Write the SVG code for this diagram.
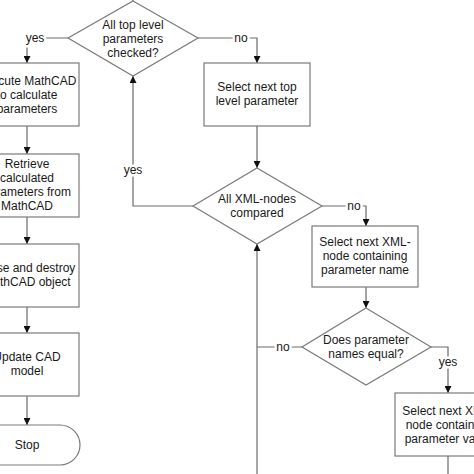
<svg xmlns="http://www.w3.org/2000/svg" width="474" height="474" viewBox="0 0 474 474">
<style>
.box{fill:#fff;stroke:#7a7a7a;stroke-width:1.2}
.t{font-family:"Liberation Sans",Arial,sans-serif;font-size:12px;fill:#1a1a1a;text-anchor:middle}
.c{fill:none;stroke:#6a6a6a;stroke-width:1.2}
.lbl{font-family:"Liberation Sans",Arial,sans-serif;font-size:12px;fill:#1a1a1a;text-anchor:middle;stroke:#fff;stroke-width:5;paint-order:stroke;stroke-linejoin:round}
</style>
<defs>
<marker id="ah" viewBox="0 0 10 10" refX="10" refY="5" markerWidth="7" markerHeight="7" markerUnits="userSpaceOnUse" orient="auto">
<path d="M0,0 L10,5 L0,10 z" fill="#111"/>
</marker>
</defs>
<rect width="474" height="474" fill="#fff"/>
<g id="connectors">
<path class="c" d="M133,-5 V1"/>
<path class="c" d="M68,38 H27 V63" marker-end="url(#ah)"/>
<path class="c" d="M198,38 H257 V63" marker-end="url(#ah)"/>
<path class="c" d="M27,126 V154" marker-end="url(#ah)"/>
<path class="c" d="M27,217 V244" marker-end="url(#ah)"/>
<path class="c" d="M27,307 V333" marker-end="url(#ah)"/>
<path class="c" d="M27,396 V425" marker-end="url(#ah)"/>
<path class="c" d="M257,126 V168" marker-end="url(#ah)"/>
<path class="c" d="M193,206 H133 V76" marker-end="url(#ah)"/>
<path class="c" d="M322,206 H366 V226" marker-end="url(#ah)"/>
<path class="c" d="M366,287 V308" marker-end="url(#ah)"/>
<path class="c" d="M302,347 H257"/>
<path class="c" d="M257,476 V244" marker-end="url(#ah)"/>
<path class="c" d="M431,347 H448 V393" marker-end="url(#ah)"/>
<path class="c" d="M448,456 V476"/>
<text class="lbl" x="35" y="42">yes</text>
<text class="lbl" x="241" y="42">no</text>
<text class="lbl" x="133" y="174">yes</text>
<text class="lbl" x="354" y="210">no</text>
<text class="lbl" x="283" y="351">no</text>
<text class="lbl" x="448" y="366">yes</text>
</g>
<g id="d1">
<polygon class="box" points="133,1 198,38 133,76 68,38"/>
<text class="t" x="133" y="29">All top level</text>
<text class="t" x="133" y="43">parameters</text>
<text class="t" x="133" y="57">checked?</text>
</g>
<g id="exec">
<rect class="box" x="-25" y="63" width="104" height="63"/>
<text class="t" x="27" y="85">Execute MathCAD</text>
<text class="t" x="27" y="99">to calculate</text>
<text class="t" x="27" y="113">parameters</text>
</g>
<g id="retrieve">
<rect class="box" x="-25" y="154" width="104" height="63"/>
<text class="t" x="27" y="168">Retrieve</text>
<text class="t" x="27" y="182">calculated</text>
<text class="t" x="27" y="196">parameters from</text>
<text class="t" x="27" y="210">MathCAD</text>
</g>
<g id="close">
<rect class="box" x="-25" y="244" width="104" height="63"/>
<text class="t" x="27" y="272">Close and destroy</text>
<text class="t" x="27" y="286">MathCAD object</text>
</g>
<g id="update">
<rect class="box" x="-25" y="333" width="104" height="63"/>
<text class="t" x="27" y="361">Update CAD</text>
<text class="t" x="27" y="375">model</text>
</g>
<g id="stop">
<path class="box" d="M-30,425 H60 A20,20 0 0 1 60,465 H-30 Z"/>
<text class="t" x="27" y="449">Stop</text>
</g>
<g id="selTop">
<rect class="box" x="204" y="63" width="106" height="63"/>
<text class="t" x="257" y="91">Select next top</text>
<text class="t" x="257" y="105">level parameter</text>
</g>
<g id="d2">
<polygon class="box" points="257,168 322,206 257,244 193,206"/>
<text class="t" x="257" y="203">All XML-nodes</text>
<text class="t" x="257" y="217">compared</text>
</g>
<g id="selXmlName">
<rect class="box" x="312" y="226" width="106" height="61"/>
<text class="t" x="365" y="246">Select next XML-</text>
<text class="t" x="365" y="260">node containing</text>
<text class="t" x="365" y="274">parameter name</text>
</g>
<g id="d3">
<polygon class="box" points="366,308 431,347 366,385 302,347"/>
<text class="t" x="366" y="344">Does parameter</text>
<text class="t" x="366" y="358">names equal?</text>
</g>
<g id="selXmlValue">
<rect class="box" x="395" y="393" width="106" height="63"/>
<text class="t" x="448" y="415">Select next XML-</text>
<text class="t" x="448" y="429">node containing</text>
<text class="t" x="448" y="443">parameter value</text>
</g>
</svg>
